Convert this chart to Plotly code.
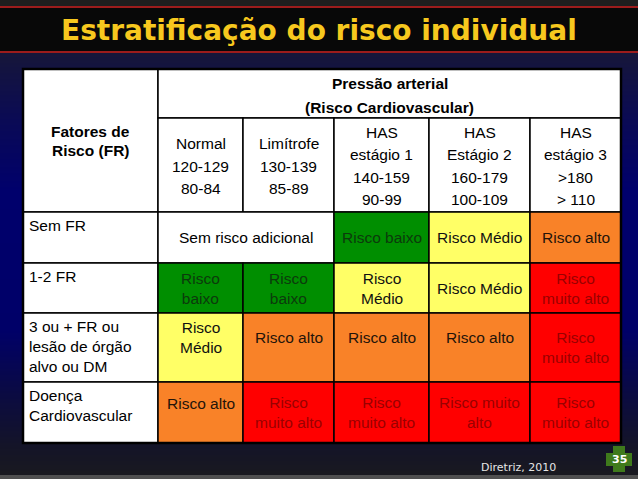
import plotly.graph_objects as go

# --- dados da tabela -------------------------------------------------------
TITLE = "Estratificação do risco individual"
BP_HEADER = ["Pressão arterial", "(Risco Cardiovascular)"]
FACTOR_HEADER = ["Fatores de", "Risco (FR)"]
BP_CATEGORIES = [
    ["Normal", "120-129", "80-84"],
    ["Limítrofe", "130-139", "85-89"],
    ["HAS", "estágio 1", "140-159", "90-99"],
    ["HAS", "Estágio 2", "160-179", "100-109"],
    ["HAS", "estágio 3", ">180", "> 110"],
]
RISK_FACTORS = [
    "Sem FR",
    "1-2 FR",
    "3 ou + FR ou<br>lesão de órgão<br>alvo ou DM",
    "Doença<br>Cardiovascular",
]
# 0 = sem risco adicional, 1 = baixo, 2 = médio, 3 = alto, 4 = muito alto
RISK_LEVEL = [
    [0, 0, 1, 2, 3],
    [1, 1, 2, 2, 4],
    [2, 3, 3, 3, 4],
    [3, 4, 4, 4, 4],
]
# None = célula fundida com a anterior
CELL_TEXT = [
    ["Sem risco adicional", None, "Risco baixo", "Risco Médio", "Risco alto"],
    ["Risco<br>baixo", "Risco<br>baixo", "Risco<br>Médio", "Risco Médio", "Risco<br>muito alto"],
    ["Risco<br>Médio", "Risco alto", "Risco alto", "Risco alto", "Risco<br>muito alto"],
    ["Risco alto", "Risco<br>muito alto", "Risco<br>muito alto", "Risco muito<br>alto", "Risco<br>muito alto"],
]
SOURCE = "Diretriz, 2010"
SLIDE_NO = "35"

# --- estilo / geometria ----------------------------------------------------
W, H = 638, 479
TABLE_X0 = 23
COL_W = [135, 85, 91, 95, 101, 91]          # rótulos + 5 categorias
TABLE_Y0 = 69
HEAD_H = [49, 94]
ROW_H = [51, 50, 69, 61]

FILL = {0: "#ffffff", 1: "#008e00", 2: "#ffff66", 3: "#f98228", 4: "#ff0000"}
INK = {0: "#000000", 1: "#0c3a0c", 2: "#111111", 3: "#24140a", 4: "#9a0000"}

BG_STOPS = [
    (53, (22, 22, 58)), (120, (10, 10, 85)), (190, (0, 0, 108)),
    (330, (0, 0, 104)), (400, (12, 12, 62)), (445, (20, 20, 40)),
    (479, (26, 26, 30)),
]
FONT = "Liberation Sans, Arial, sans-serif"
BODY_SIZE = 15.5


def lerp_color(y):
    for (y0, c0), (y1, c1) in zip(BG_STOPS, BG_STOPS[1:]):
        if y0 <= y <= y1:
            t = (y - y0) / (y1 - y0)
            r, g, b = (round(a + (b_ - a) * t) for a, b_ in zip(c0, c1))
            return f"rgb({r},{g},{b})"
    return "rgb(26,26,30)"


col_edges = [TABLE_X0]
for w in COL_W:
    col_edges.append(col_edges[-1] + w)
head_edges = [TABLE_Y0]
for h in HEAD_H:
    head_edges.append(head_edges[-1] + h)
row_edges = [head_edges[-1]]
for h in ROW_H:
    row_edges.append(row_edges[-1] + h)

shapes = []
annotations = []

# fundo do slide
for y in range(53, H, 2):
    shapes.append(dict(type="rect", x0=0, x1=W, y0=y, y1=y + 2.5,
                       fillcolor=lerp_color(y), line_width=0, layer="below"))
shapes += [
    dict(type="rect", x0=0, x1=W, y0=0, y1=7, fillcolor="#1e1e1e", line_width=0, layer="below"),
    dict(type="rect", x0=0, x1=W, y0=7, y1=53, fillcolor="#080808", line_width=0, layer="below"),
    dict(type="line", x0=0, x1=W, y0=7, y1=7, line=dict(color="#9c1c1c", width=2)),
    dict(type="line", x0=0, x1=W, y0=52, y1=52, line=dict(color="#9c1c1c", width=2)),
    dict(type="rect", x0=0, x1=W, y0=475, y1=H, fillcolor="#505050", line_width=0),
]


def cell(x0, x1, y0, y1, fill):
    shapes.append(dict(type="rect", x0=x0, x1=x1, y0=y0, y1=y1,
                       fillcolor=fill, line=dict(color="#000000", width=1.5)))


def text(x, y, s, color="#000000", size=BODY_SIZE, bold=False, xanchor="center", yanchor="middle"):
    if bold:
        s = f"<b>{s}</b>"
    annotations.append(dict(x=x, y=y, text=s, showarrow=False, xanchor=xanchor,
                            yanchor=yanchor, align="left" if xanchor == "left" else "center",
                            font=dict(family=FONT, size=size, color=color)))


# cabeçalho
cell(col_edges[0], col_edges[1], head_edges[0], head_edges[2], "#ffffff")
cx = (col_edges[0] + col_edges[1]) / 2
cy = (head_edges[0] + head_edges[2]) / 2
for i, line in enumerate(FACTOR_HEADER):
    text(cx, cy + (i - (len(FACTOR_HEADER) - 1) / 2) * 19, line, bold=True)

cell(col_edges[1], col_edges[-1], head_edges[0], head_edges[1], "#ffffff")
cx = (col_edges[1] + col_edges[-1]) / 2
cy = (head_edges[0] + head_edges[1]) / 2 + 1.5
for i, line in enumerate(BP_HEADER):
    text(cx, cy + (i - (len(BP_HEADER) - 1) / 2) * 24, line, bold=True)

for j, lines in enumerate(BP_CATEGORIES):
    x0, x1 = col_edges[j + 1], col_edges[j + 2]
    cell(x0, x1, head_edges[1], head_edges[2], "#ffffff")
    cy = (head_edges[1] + head_edges[2]) / 2 + 1
    for i, line in enumerate(lines):
        text((x0 + x1) / 2, cy + (i - (len(lines) - 1) / 2) * 22.5, line)

# corpo
for r, label in enumerate(RISK_FACTORS):
    y0, y1 = row_edges[r], row_edges[r + 1]
    cell(col_edges[0], col_edges[1], y0, y1, "#ffffff")
    text(col_edges[0] + 4, y0 + 3, label, xanchor="left", yanchor="top")
    c = 0
    while c < len(RISK_LEVEL[r]):
        span = 1
        while c + span < len(CELL_TEXT[r]) and CELL_TEXT[r][c + span] is None:
            span += 1
        lvl = RISK_LEVEL[r][c]
        x0, x1 = col_edges[c + 1], col_edges[c + 1 + span]
        cell(x0, x1, y0, y1, FILL[lvl])
        frac = 0.35 if (y1 - y0) > 55 and lvl in (2, 3) else 0.5
        text((x0 + x1) / 2, y0 + frac * (y1 - y0), CELL_TEXT[r][c], color=INK[lvl])
        c += span

# borda externa
shapes.append(dict(type="rect", x0=col_edges[0], x1=col_edges[-1], y0=head_edges[0],
                   y1=row_edges[-1], line=dict(color="#000000", width=2.5)))

# título, fonte e número do slide
annotations.append(dict(x=W / 2, y=30, text=f"<b>{TITLE}</b>", showarrow=False,
                        font=dict(family="DejaVu Sans, Verdana", size=28, color="#f7c81e")))
annotations.append(dict(x=518, y=467, text=SOURCE, showarrow=False,
                        font=dict(family="DejaVu Sans, Verdana", size=11, color="#e6e6e6")))
shapes += [
    dict(type="rect", x0=613, x1=625, y0=446, y1=472, fillcolor="#3f7a1c", line_width=0),
    dict(type="rect", x0=606, x1=632, y0=453, y1=466, fillcolor="#3f7a1c", line_width=0),
]
annotations.append(dict(x=619, y=459.5, text=f"<b>{SLIDE_NO}</b>", showarrow=False,
                        font=dict(family="DejaVu Sans, Verdana", size=11, color="#ffffff")))

fig = go.Figure()
fig.update_layout(
    width=W, height=H,
    margin=dict(l=0, r=0, t=0, b=0),
    paper_bgcolor="#000044",
    plot_bgcolor="rgba(0,0,0,0)",
    xaxis=dict(range=[0, W], visible=False, fixedrange=True),
    yaxis=dict(range=[H, 0], visible=False, fixedrange=True),
    shapes=shapes,
    annotations=annotations,
    showlegend=False,
)

fig.write_html(
    "out.html",
    config=dict(displayModeBar=False),
    post_script="document.body.style.margin='0px'; document.body.style.overflow='hidden';",
)
